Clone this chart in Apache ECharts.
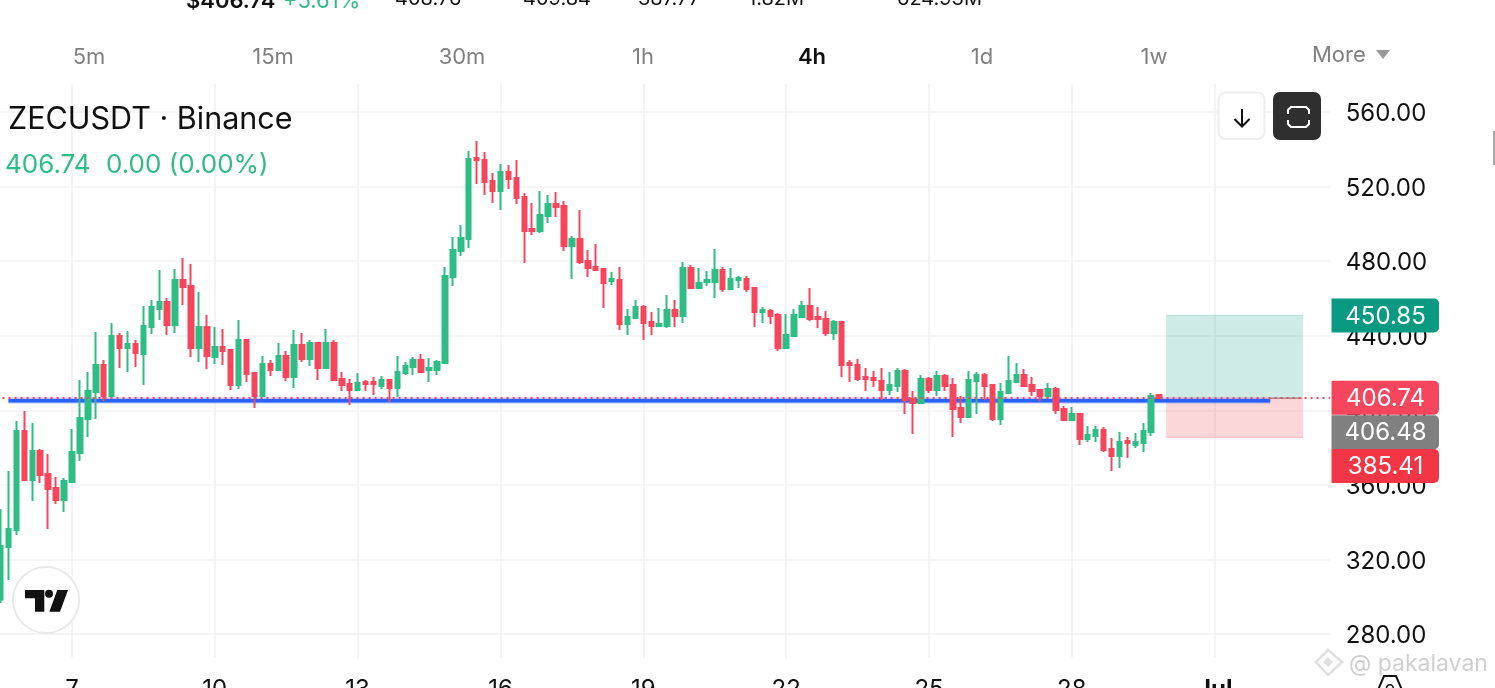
<!DOCTYPE html>
<html><head><meta charset="utf-8">
<style>html,body{margin:0;padding:0;background:#fff}#c{width:1495px;height:688px}</style>
<script src="https://cdn.jsdelivr.net/npm/echarts@6/dist/echarts.min.js"></script>
</head><body><div id="c"></div>
<script>
const opens=[298.5,326.7,335.8,388.9,362.6,378.2,365.8,358.3,351.9,361.5,377.1,395.3,409.8,424.3,407.7,439.8,433.4,435.6,430.2,444.7,454.3,458.1,445.7,469.9,466.7,433.4,444.7,428.6,433.9,432.3,413.6,437.7,420.0,407.7,424.8,421.6,429.1,417.8,
435.0,427.5,436.1,422.7,436.1,416.8,414.1,410.9,415.2,415.2,413.0,416.2,411.9,420.0,423.2,427.0,421.6,421.6,425.4,471.5,485.4,491.9,535.3,534.2,523.0,517.6,527.8,524.6,514.4,497.2,496.2,504.2,510.6,509.6,488.1,491.9,480.1,476.9,
475.8,469.3,469.9,446.3,449.5,455.4,447.4,445.2,445.2,453.8,450.6,476.3,465.6,468.8,468.8,475.2,465.0,469.9,470.4,465.6,452.7,453.2,451.1,433.4,439.8,450.0,455.9,450.0,449.0,441.4,447.4,425.4,424.3,417.8,417.3,
415.7,410.9,413.0,421.1,406.1,403.9,416.8,410.9,418.4,413.6,401.2,396.4,415.7,418.9,413.6,395.3,409.3,415.2,418.9,413.6,410.9,407.7,411.4,400.7,394.8,398.0,384.6,386.2,389.4,379.2,375.5,383.5,381.4,382.4,388.4,408.2];
const closes=[327.2,336.3,388.9,362.6,378.2,365.3,357.8,351.9,362.1,377.6,395.9,410.3,424.3,407.7,439.8,433.4,435.6,430.7,445.2,455.4,458.1,445.7,469.9,466.1,433.4,444.7,429.1,433.9,431.8,413.6,437.7,419.5,407.7,424.8,421.6,429.1,417.8,435.0,
427.5,436.1,422.7,436.1,416.2,413.6,410.9,414.6,414.1,414.1,416.2,411.9,420.5,423.7,427.0,420.5,422.7,425.9,472.0,486.0,492.4,534.8,534.2,522.4,517.6,527.8,524.1,513.9,496.2,496.2,504.7,510.6,509.0,488.1,491.9,479.5,476.3,475.2,
468.3,470.4,446.3,450.0,455.4,446.8,445.2,446.3,453.8,450.6,476.3,465.6,468.3,469.9,475.2,465.0,470.4,471.0,465.0,452.7,453.8,450.6,433.4,440.4,451.1,455.9,449.0,449.0,441.4,447.4,424.3,424.3,416.8,416.8,416.2,
410.9,413.6,421.1,405.5,403.9,416.8,410.9,418.4,413.0,400.7,396.4,416.2,418.9,413.0,395.3,409.8,415.7,418.9,413.0,410.3,407.7,411.4,400.2,394.8,398.0,384.6,386.7,389.4,378.7,375.5,383.0,382.4,383.0,388.9,407.7,406.6];
const lows=[296.6,309.0,333.1,362.1,351.3,361.0,336.3,349.7,345.4,361.0,372.8,385.7,395.3,405.0,407.1,422.7,420.5,423.2,413.6,440.9,448.4,440.4,441.4,456.5,428.6,425.9,422.1,424.8,424.3,410.9,411.4,415.2,401.2,407.7,418.4,421.6,415.7,411.9,
425.9,423.7,416.2,422.7,416.2,410.3,402.8,410.3,410.3,408.2,411.4,404.4,407.1,418.9,418.9,420.5,415.2,418.9,425.4,466.7,482.8,487.0,521.4,515.5,511.2,507.4,518.7,510.6,479.0,494.0,495.1,500.5,503.7,485.4,470.4,478.5,471.5,475.2,
454.9,467.2,443.1,440.4,449.0,437.7,440.4,444.7,444.1,444.7,446.8,465.0,465.6,466.7,460.2,463.4,465.0,465.6,463.4,444.7,446.8,446.3,431.8,433.4,439.3,449.5,447.9,444.1,439.8,437.7,417.8,415.2,415.7,410.3,412.5,
405.5,408.2,409.8,398.0,387.3,403.4,409.3,407.7,410.3,385.7,393.2,396.4,398.0,405.5,394.2,392.1,409.3,415.2,412.5,407.7,405.0,406.1,398.0,394.2,394.8,381.4,383.0,383.0,377.6,367.4,369.0,374.4,379.8,377.6,386.2,406.1];
const highs=[347.0,367.4,394.2,399.6,393.2,379.2,376.5,364.2,363.7,389.9,416.2,420.5,442.0,427.0,446.8,441.4,442.5,437.7,455.9,459.2,475.2,460.2,475.8,481.7,478.5,463.4,451.1,444.7,443.6,432.9,448.4,438.2,420.5,429.1,427.0,436.1,431.8,443.1,
441.4,437.7,436.6,443.6,437.7,420.5,416.8,420.0,416.2,417.8,418.4,416.8,429.1,425.9,428.6,430.2,428.0,427.0,476.9,492.9,499.4,539.1,544.4,538.5,527.3,532.1,531.6,534.2,516.5,511.2,517.6,515.5,517.1,512.3,493.5,507.4,486.0,489.2,
476.3,474.2,476.9,454.3,459.2,456.5,452.7,454.9,461.8,459.2,479.5,477.9,476.3,474.7,486.5,476.9,476.3,472.0,472.0,466.1,455.4,454.3,452.2,451.6,454.3,458.6,465.6,455.4,453.2,448.4,447.9,427.0,427.5,422.7,421.1,
422.7,420.5,422.7,422.1,410.3,418.9,417.9,421.1,419.5,417.3,407.7,421.1,420.5,420.0,414.1,414.6,429.1,425.4,422.1,417.9,411.4,414.6,412.5,402.3,401.8,398.0,391.6,391.6,391.0,385.1,388.4,385.7,387.8,393.2,409.3,408.7];

const tickLabels=['7','10','13','16','19','22','25','28','Jul'];
const priceTicks=[280,320,360,400,440,480,520,560];
const lastPrice=406.74;
const bluePrice=405.1;
const targetPrice=450.85;
const entryPrice=406.48;
const stopPrice=385.41;
const badgePrices=[targetPrice,lastPrice,entryPrice,stopPrice];
const badgeColors=['#0a9a82','#f6465d','#808080','#f23645'];
const badgeShift=[0,0,34,28.5];
const categories=Array.from({length:168},(_,i)=>{const k=(i-9)/18;return Number.isInteger(k)&&tickLabels[k]?tickLabels[k]:'c'+i;});
const isTick=i=>(i-9)%18===0&&i>=9;

const FF='Inter, "Noto Sans", sans-serif';
const GREEN='#2ebd85',RED='#f6465d';
const candleData=opens.map((o,i)=>[o,closes[i],lows[i],highs[i]]);

function txt(x,y,t,size,color,extra){return Object.assign({type:'text',z:100,silent:true,x:x,y:y,style:Object.assign({text:t,font:'400 '+size+'px '+FF,fill:color,textVerticalAlign:'middle',textAlign:'left'},extra||{})});}
function tab(x,t,bold){return txt(x,57,t,22,bold?'#111':'#808080',{textAlign:'center',font:(bold?'600 ':'400 ')+'22px '+FF});}

const chart=echarts.init(document.getElementById('c'),null,{renderer:'canvas'});
chart.setOption({
  animation:false,backgroundColor:'#fff',
  grid:{left:-3.43,top:84,width:1333.2,height:574,containLabel:false,outerBoundsMode:'none'},
  xAxis:{type:'category',data:categories,boundaryGap:true,
    axisLine:{show:false},axisTick:{show:false},
    axisLabel:{interval:(i)=>isTick(i),margin:20,color:'#111',fontFamily:FF,fontSize:24,hideOverlap:false,
      formatter:(v)=>v==='Jul'?'{b|Jul}':v,rich:{b:{fontWeight:700,fontSize:24,fontFamily:FF,color:'#111'}}},
    splitLine:{show:true,alignWithLabel:true,interval:(i)=>isTick(i),lineStyle:{color:'#f2f2f2',width:1.6}}},
  yAxis:{type:'value',position:'right',min:267.1,max:575.02,scale:true,
    axisLine:{show:false},axisTick:{show:false,customValues:priceTicks},
    axisLabel:{customValues:priceTicks,color:'#111',fontFamily:FF,fontSize:24,margin:16,verticalAlign:'top',lineHeight:4,formatter:(v)=>v.toFixed(2)},
    splitLine:{show:true,lineStyle:{color:'#f2f2f2',width:1.6}}},
  series:[
   {type:'custom',z:1,silent:true,clip:false,coordinateSystem:'cartesian2d',
    data:[[147,164,targetPrice,lastPrice,'rgba(8,153,129,0.2)','rgba(8,153,129,0.18)'],[147,164,lastPrice,stopPrice,'rgba(242,54,69,0.2)','rgba(242,54,69,0.2)']],
    encode:{x:[0,1],y:[2,3]},
    renderItem:(p,api)=>{
      const a=api.coord([api.value(0),api.value(2)]),b=api.coord([api.value(1),api.value(3)]);
      const d=p.dataIndex===0;
      const yL=d?a[1]:b[1];
      return {type:'group',children:[
        {type:'rect',shape:{x:a[0]-1,y:a[1],width:b[0]-a[0]+2,height:b[1]-a[1]},style:{fill:api.value(4)}},
        {type:'line',shape:{x1:a[0]-1,y1:yL,x2:b[0]+1,y2:yL},style:{stroke:api.value(5),lineWidth:1.2}}
      ]};
    }},
   {type:'line',z:2,silent:true,symbol:'none',data:[[1,bluePrice+0.2],[160,bluePrice+0.2]],lineStyle:{color:'rgba(41,98,255,0.35)',width:6}},
   {type:'line',z:2,silent:true,symbol:'none',data:[[1,bluePrice],[160,bluePrice]],lineStyle:{color:'#2962ff',width:3.4}},
   {type:'line',z:2,silent:true,symbol:'none',data:[[160,entryPrice],[164,entryPrice]],lineStyle:{color:'rgba(90,90,90,0.7)',width:1.2}},
   {type:'candlestick',z:3,barWidth:5,data:candleData,silent:true,
    itemStyle:{color:GREEN,color0:RED,borderColor:GREEN,borderColor0:RED,borderWidth:2},
    markLine:{silent:true,symbol:'none',z:6,label:{show:false},animation:false,
      lineStyle:{color:'#f6465d',type:[2,4],width:2,opacity:1},data:[{yAxis:lastPrice}]}},
   {type:'custom',z:20,silent:true,clip:false,coordinateSystem:'cartesian2d',
    data:badgePrices.map((v,i)=>[167,v,i]),encode:{x:0,y:1},
    renderItem:(p,api)=>{
      const i=api.value(2),c=api.coord([api.value(0),api.value(1)]),cy=c[1]+badgeShift[i];
      return {type:'group',children:[
        {type:'rect',shape:{x:1331.5,y:cy-17,width:107.5,height:34,r:[0,5,5,0]},style:{fill:badgeColors[i]}},
        {type:'text',style:{x:1385.5,y:cy+1,text:api.value(1).toFixed(2),fill:'#fff',font:'400 24px '+FF,textAlign:'center',textVerticalAlign:'middle'}}
      ]};
    }}
  ],
  graphic:{elements:[
    txt(186,1,'$406.74',22,'#111',{font:'600 22px '+FF}),
    txt(283,1,'+5.61%',22,GREEN),
    txt(395,-1,'408.76',20,'#111'),txt(523,-1,'409.84',20,'#111'),txt(638,-1,'387.77',20,'#111'),txt(748,-1,'1.82M',20,'#111'),txt(897,-1,'624.93M',20,'#111'),
    tab(89,'5m'),tab(273,'15m'),tab(462,'30m'),tab(643,'1h'),tab(812,'4h',true),tab(982,'1d'),tab(1154,'1w'),
    txt(1312,55,'More',22,'#808080'),
    {type:'polygon',z:100,silent:true,shape:{points:[[1376,50],[1390,50],[1383,59]]},style:{fill:'#999'}},
    txt(8,120,'ZECUSDT · Binance',30.5,'#111'),
    txt(5,165,'406.74',26,GREEN),txt(106,165,'0.00 (0.00%)',26,GREEN),
    {type:'rect',z:100,silent:true,shape:{x:1218.5,y:92.5,width:46,height:46.5,r:7},style:{fill:'#fff',stroke:'#eeeeee',lineWidth:2}},
    {type:'polyline',z:101,silent:true,shape:{points:[[1242,109],[1242,126.5]]},style:{stroke:'#111',lineWidth:2,fill:null}},
    {type:'polyline',z:101,silent:true,shape:{points:[[1234.5,119],[1242,126.5],[1249.5,119]]},style:{stroke:'#111',lineWidth:2,fill:null}},
    {type:'rect',z:100,silent:true,shape:{x:1273,y:92,width:48,height:48,r:7},style:{fill:'#2f2f2f'}},
    {type:'polyline',z:101,silent:true,shape:{points:[[1288,114],[1288,110],[1291,107],[1306,107],[1309,110],[1309,114]]},style:{stroke:'#fff',lineWidth:2,fill:null}},
    {type:'polyline',z:101,silent:true,shape:{points:[[1288,120],[1288,124],[1291,127],[1306,127],[1309,124],[1309,120]]},style:{stroke:'#fff',lineWidth:2,fill:null}},
    {type:'circle',z:100,silent:true,shape:{cx:46,cy:600,r:33},style:{fill:'#fff',stroke:'#e9e9e9',lineWidth:2}},
    {type:'polygon',z:101,silent:true,shape:{points:[[25,590],[44.3,590],[44.3,611.7],[35,611.7],[35,598.3],[25,598.3]]},style:{fill:'#111'}},
    {type:'circle',z:101,silent:true,shape:{cx:49,cy:593.7,r:4},style:{fill:'#111'}},
    {type:'polygon',z:101,silent:true,shape:{points:[[57.3,590],[68,590],[60,611.7],[49.3,611.7]]},style:{fill:'#111'}},
    {type:'polygon',z:100,silent:true,shape:{points:[[1328,650],[1342,662],[1328,675],[1316,662]]},style:{fill:'#fff',stroke:'#e0e0e0',lineWidth:2.5}},
    {type:'polygon',z:100,silent:true,shape:{points:[[1328,657],[1333,662],[1328,667],[1323,662]]},style:{fill:'#e0e0e0'}},
    txt(1349,664,'@ pakalavan',23,'#cfcfcf'),
    {type:'polyline',z:100,silent:true,shape:{points:[[1378,690],[1384,676],[1396,676],[1402,690]]},style:{stroke:'#111',lineWidth:2,fill:null}},
    txt(1390,692,'9',17,'#111',{textAlign:'center'}),
    {type:'rect',z:100,silent:true,shape:{x:1493,y:131,width:2,height:34},style:{fill:'#aaa'}}
  ]}
});
</script></body></html>
